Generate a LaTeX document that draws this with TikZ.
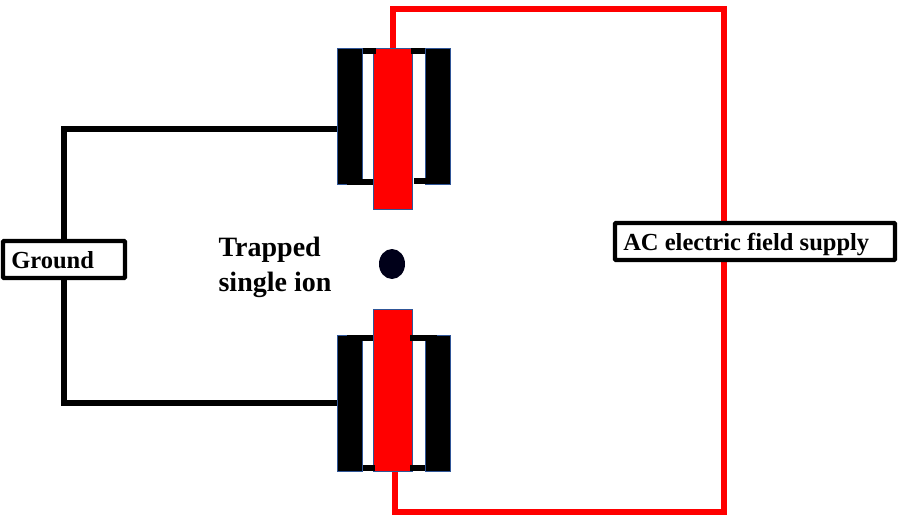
\documentclass[tikz,border=0pt]{standalone}
\usepackage{fontspec}
\usetikzlibrary{shapes.geometric}
\setmainfont{Liberation Serif}
\definecolor{edgeblue}{HTML}{2F5597}
\definecolor{wirered}{HTML}{FF0000}
\tikzset{
  px/.style={x=0.75pt,y=-0.75pt},
  platebox/.style={rectangle,fill=black,draw=edgeblue,line width=0.7pt,inner sep=0pt,minimum width=19.2pt,minimum height=#1},
  rodbox/.style={rectangle,fill=wirered,draw=edgeblue,line width=0.7pt,inner sep=0pt,minimum width=29.5pt,minimum height=#1},
  labelbox/.style={rectangle,draw=black,fill=white,line width=3.3pt,rounded corners=0.8pt,inner sep=0pt,minimum height=27.8pt},
  tag/.style={font=\bfseries\fontsize{18.4pt}{21pt}\selectfont,inner sep=0pt},
  iontag/.style={font=\bfseries\fontsize{21pt}{26.3pt}\selectfont,inner sep=0pt,align=left},
  blackwire/.style={draw=black,line width=3.9pt,line join=miter},
  redwire/.style={draw=wirered,line width=4.5pt,line join=miter},
  bridge/.style={fill=black,draw=none}
}
\begin{document}
\begin{tikzpicture}[px]
\useasboundingbox (0,0) rectangle (901,517);
\fill[white] (0,0) rectangle (901,517);
% named corners
\coordinate (gt) at (64,129);
\coordinate (gb) at (64,403);
\coordinate (rt1) at (393,9);
\coordinate (rt2) at (724,9);
\coordinate (rb1) at (724,512);
\coordinate (rb2) at (395,512);
% electrodes
\node[platebox=102pt] (ptl) at (350,116) {};
\node[platebox=102pt] (ptr) at (438,116) {};
\node[platebox=102pt] (pbl) at (350,403) {};
\node[platebox=102pt] (pbr) at (438,403) {};
\node[rodbox=121pt] (rt) at (393,129) {};
\node[rodbox=121pt] (rb) at (393,390.5) {};
\path[bridge] (363,48) rectangle (376,54);
\path[bridge] (411,48) rectangle (425,54);
\path[bridge] (347,179) rectangle (373,185);
\path[bridge] (414,178) rectangle (440,184);
\path[bridge] (347,335) rectangle (373,341);
\path[bridge] (410,335) rectangle (437,341);
\path[bridge] (363,465) rectangle (375,471);
\path[bridge] (410,465) rectangle (425,471);
% wires
\draw[blackwire] (gt |- 0,239) -- (gt) -- (ptl.west |- gt);
\draw[blackwire] (gb |- 0,280) -- (gb) -- (pbl.west |- gb);
\path[redwire] (rt1 |- rt.north) -- (rt1) -- (rt2) -- (rt2 |- 0,222);
\path[redwire] (rb1 |- 0,261) -- (rb1) -- (rb2) -- (rb2 |- rb.south);
% label boxes
\node[labelbox,minimum width=91.5pt] (ground) at (64,259.5) {};
\node[labelbox,minimum width=210pt] (ac) at (755,241.5) {};
% ion
\node[ellipse,fill=black!90!blue,minimum width=19.5pt,minimum height=22.5pt,inner sep=0pt] (ion) at (392,264) {};
% texts
\node[tag,anchor=base west] (gtxt) at (11,268.5) {Ground};
\node[tag,anchor=base west] (actxt) at (623,250) {AC electric field supply};
\node[iontag,anchor=center] (iontxt) at (275,267.5) {Trapped\\single ion};
\end{tikzpicture}
\end{document}
